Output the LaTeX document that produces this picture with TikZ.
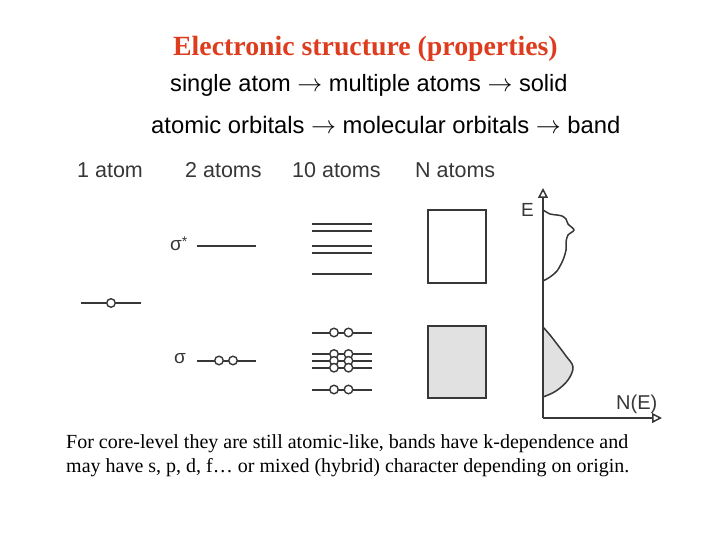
\documentclass[tikz,border=0pt]{standalone}
\usepackage{fontspec}
\setmainfont{Liberation Serif}
\newfontfamily\arialf{Liberation Sans}
\usetikzlibrary{arrows.meta}
\definecolor{titlered}{RGB}{222,60,30}
\definecolor{lvl}{RGB}{55,55,55}
\definecolor{bandgray}{RGB}{225,225,225}
\begin{document}
\begin{tikzpicture}[x=1pt,y=-1pt,
  lvline/.style={draw=lvl,line width=2pt},
  elec/.style={circle,draw=lvl,fill=white,line width=1.4pt,inner sep=0pt,minimum size=8.5pt},
  lab/.style={anchor=base west,inner sep=0pt,text=lvl,font=\arialf\fontsize{21.5}{24}\selectfont},
  axis/.style={draw=lvl,line width=1.6pt,-{Triangle[open,length=10pt,width=10pt,fill=white,line width=1.5pt]}}]
\useasboundingbox (0,0) rectangle (720,540);
% headings
\node[anchor=base west,inner sep=0pt,text=titlered,font=\bfseries\fontsize{27.8}{30}\selectfont] (title) at (173,56) {Electronic structure (properties)};
\node[anchor=base west,inner sep=0pt,font=\arialf\fontsize{23.6}{26}\selectfont] (l2) at (170,92) {single atom $\rightarrow$ multiple atoms $\rightarrow$ solid};
\node[anchor=base west,inner sep=0pt,font=\arialf\fontsize{23.8}{26}\selectfont] (l3) at (151,134) {atomic orbitals $\rightarrow$ molecular orbitals $\rightarrow$ band};
% column labels
\node[lab] (c1) at (77,178) {1 atom};
\node[lab] (c2) at (185,178) {2 atoms};
\node[lab] (c3) at (292,178) {10 atoms};
\node[lab] (c4) at (415,178) {N atoms};
% 1 atom
\draw[lvline] (81,303) -- (141,303);
\node[elec] (e1) at (111,303) {};
% 2 atoms
\node[anchor=base west,inner sep=0pt,text=lvl,font=\arialf\fontsize{19}{20}\selectfont] (sst) at (170,251) {σ\raisebox{5pt}{\fontsize{14}{14}\selectfont *}};
\draw[lvline] (197,245.5) -- (256,245.5);
\node[anchor=base west,inner sep=0pt,text=lvl,font=\arialf\fontsize{19}{20}\selectfont] (sg) at (174,363) {σ};
\draw[lvline] (197,360.5) -- (256,360.5);
\node[elec] (e2a) at (219,360.5) {};
\node[elec] (e2b) at (233,360.5) {};
% 10 atoms upper
\foreach \yy in {224,231,245.5,252.5,274} {\draw[lvline] (312,\yy) -- (372,\yy);}
% 10 atoms lower
\foreach \yy in {332.5,354,360.8,367.7,389.5} {\draw[lvline] (312,\yy) -- (372,\yy);}
\foreach \yy in {332.5,354,360.8,367.7,389.5} {
  \node[elec] at (334,\yy) {};
  \node[elec] at (348.5,\yy) {};
}
% N atoms
\draw[draw=lvl,line width=2pt] (428,210) rectangle (486,283);
\draw[draw=lvl,line width=2pt,fill=bandgray] (428,326) rectangle (486,398);
% DOS axes
\coordinate (origin) at (543,418);
\coordinate (etop) at (543,188);
\coordinate (nright) at (662,418);
\draw[fill=bandgray,draw=lvl,line width=1.5pt] plot[smooth,tension=0.6] coordinates {(543,327) (550,335) (557,344) (566,356) (573,367) (568,380) (556,391) (543,397)} -- cycle;
\draw[draw=lvl,line width=1.5pt] plot[smooth,tension=0.5] coordinates {(543,210) (550,214) (557,215) (562,216) (566,219) (568,224) (574,230) (568,235) (566,242) (566,250) (563,260) (557,271) (550,277) (543,281)};
\draw[axis] (origin) -- (etop);
\draw[axis] (origin) -- (nright);
\node[anchor=base west,inner sep=0pt,text=lvl,font=\arialf\fontsize{19}{20}\selectfont] (E) at (521,216) {E};
\node[anchor=base west,inner sep=0pt,text=lvl,font=\arialf\fontsize{20}{20}\selectfont] (NE) at (616,409) {N(E)};
% bottom text
\node[anchor=base west,inner sep=0pt,font=\fontsize{20}{24}\selectfont] (b1) at (66,448) {For core-level they are still atomic-like, bands have k-dependence and};
\node[anchor=base west,inner sep=0pt,font=\fontsize{20}{24}\selectfont] (b2) at (66,472) {may have s, p, d, f\ldots\ or mixed (hybrid) character depending on origin.};
\end{tikzpicture}
\end{document}
